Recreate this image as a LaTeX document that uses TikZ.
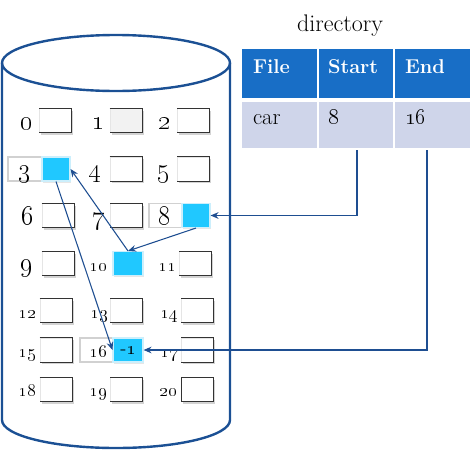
\RequirePackage{fix-cm}
\documentclass[tikz,border=0pt]{standalone}
\usetikzlibrary{arrows.meta,shadows,calc}
\definecolor{cylblue}{RGB}{27,80,148}
\definecolor{arrblue}{RGB}{30,78,145}
\definecolor{cyanfill}{RGB}{32,200,255}
\definecolor{hdrblue}{RGB}{24,110,198}
\definecolor{bodyfill}{RGB}{207,213,234}
\begin{document}
\begin{tikzpicture}[x=0.75pt,y=-0.75pt,
  bx/.style={rectangle, inner sep=0pt, minimum width=24pt, minimum height=18pt, fill=white, draw=black!10, line width=0.5pt,
    drop shadow={shadow xshift=1.2pt, shadow yshift=-1.8pt, opacity=0.35}},
  cy/.style={rectangle, inner sep=0pt, minimum height=18pt, fill=cyanfill, draw=cyan!20, line width=0.8pt,
    drop shadow={shadow xshift=1pt, shadow yshift=-1.2pt, opacity=0.2}, font=\fontsize{14}{16}\selectfont},
  gr/.style={rectangle, inner sep=0pt, minimum height=18pt, fill=white, draw=black!18, line width=1pt},
  big/.style={anchor=base west, inner sep=0pt, font=\fontsize{20}{22}\selectfont},
  sml/.style={anchor=base west, inner sep=0pt, font=\fontsize{13.5}{15}\selectfont},
  boxline/.style={draw=black!80, line width=0.9pt},
  arr/.style={-{Stealth[length=6pt,width=5pt]}, draw=arrblue, line width=0.8pt},
  hdr/.style={rectangle, inner sep=0pt, fill=hdrblue, minimum height=36.75pt},
  bdy/.style={rectangle, inner sep=0pt, fill=bodyfill, minimum height=34.5pt},
  tx/.style={anchor=base west, inner sep=0pt, font=\fontsize{17}{19}\selectfont}]
\useasboundingbox (0,0) rectangle (474,450);
% cylinder
\draw[cylblue, line width=1.8pt] (116,63) ellipse [x radius=85.5pt, y radius=21pt];
\draw[cylblue, line width=1.8pt] (2,63) -- (2,420) arc[start angle=180, end angle=360, x radius=85.5pt, y radius=21pt] -- (230,63);
% row 0
\node[bx] (b0) at (55.5,120.5) {};
\node[bx, fill=black!5] (b1) at (126,120.5) {};
\node[bx] (b2) at (193.5,120.5) {};
\node[big] (l0) at (20,129) {\oldstylenums{0}};
\node[big] (l1) at (92,129) {\oldstylenums{1}};
\node[big] (l2) at (158,129) {\oldstylenums{2}};
% row 1
\node[gr, minimum width=25.5pt] (g3) at (25,169) {};
\node[cy, minimum width=21pt] (c3) at (56,169) {};
\node[bx] (b4) at (126,169) {};
\node[bx] (b5) at (193.5,169) {};
\node[big] (l3) at (18,177) {\oldstylenums{3}};
\node[big] (l4) at (88,177) {\oldstylenums{4}};
\node[big] (l5) at (157,177) {\oldstylenums{5}};
% row 2
\node[bx] (b6) at (58,215.5) {};
\node[bx] (b7) at (126.5,215.5) {};
\node[gr, minimum width=24.75pt] (g8) at (165.5,215.5) {};
\node[cy, minimum width=21pt] (c8) at (196,215.5) {};
\node[big] (l6) at (21,224) {\oldstylenums{6}};
\node[big] (l7) at (92,224) {\oldstylenums{7}};
\node[big] (l8) at (158,224) {\oldstylenums{8}};
% row 3
\node[bx] (b9) at (58,263.5) {};
\node[cy, minimum width=22.5pt] (c10) at (128,263.5) {};
\node[bx] (b11) at (195.5,263.5) {};
\node[big] (l9) at (20,271) {\oldstylenums{9}};
\node[sml] (l10) at (89,271) {\oldstylenums{10}};
\node[sml] (l11) at (158,271) {\oldstylenums{11}};
% row 4
\node[bx] (b12) at (56,310.5) {};
\node[bx] (b13) at (126.5,310.5) {};
\node[bx] (b14) at (197.5,310.5) {};
\node[sml] (l12) at (18,318) {\oldstylenums{12}};
\node[sml] (l13) at (90,318) {\oldstylenums{13}};
\node[sml] (l14) at (160,318) {\oldstylenums{14}};
% row 5
\node[bx] (b15) at (56,350) {};
\node[gr, minimum width=24.75pt] (g16) at (96.5,350) {};
\node[cy, minimum width=22.5pt] (c16) at (128,350) {-\oldstylenums{1}};
\node[bx] (b17) at (197.5,350) {};
\node[sml] (l15) at (18,357) {\oldstylenums{15}};
\node[sml] (l16) at (89,357) {\oldstylenums{16}};
\node[sml] (l17) at (160,357) {\oldstylenums{17}};
% row 6
\node[bx] (b18) at (56,389.5) {};
\node[bx] (b19) at (126.5,389.5) {};
\node[bx] (b20) at (197.5,389.5) {};
\node[sml] (l18) at (18,396) {\oldstylenums{18}};
\node[sml] (l19) at (89,396) {\oldstylenums{19}};
\node[sml] (l20) at (159,396) {\oldstylenums{20}};
% box outlines
\foreach \n in {b0,b1,b2,b4,b5,b6,b7,b9,b11,b12,b13,b14,b15,b17,b18,b19,b20}
  \draw[boxline] (\n.north west) -- (\n.north east) -- (\n.south east) -- (\n.south west);
\draw[boxline] (b20.south west) -- (b20.north west);
% directory table
\node[anchor=base, inner sep=0pt, font=\fontsize{18}{20}\selectfont] (title) at (340,31) {directory};
\node[hdr, minimum width=56.25pt] (hF) at (279.5,73.5) {};
\node[hdr, minimum width=55.5pt] (hS) at (356,73.5) {};
\node[hdr, minimum width=56.25pt] (hE) at (432.5,73.5) {};
\node[bdy, minimum width=56.25pt] (cF) at (279.5,125) {};
\node[bdy, minimum width=55.5pt] (cS) at (356,125) {};
\node[bdy, minimum width=56.25pt] (cE) at (432.5,125) {};
\node[tx, text=white, font=\fontsize{15}{17}\selectfont\bfseries] (tF) at ($(hF.west)+(11,0)$) {File};
\node[tx, text=white, font=\fontsize{15}{17}\selectfont\bfseries] (tS) at ($(hS.west)+(9,0)$) {Start};
\node[tx, text=white, font=\fontsize{15}{17}\selectfont\bfseries] (tE) at ($(hE.west)+(10,0)$) {End};
\node[tx] (vF) at ($(cF.west)+(11,-1)$) {car};
\node[tx] (vS) at ($(cS.west)+(9,-1)$) {\oldstylenums{8}};
\node[tx] (vE) at ($(cE.west)+(10,-1)$) {\oldstylenums{16}};
% connectors
\coordinate (s1) at (357,150);
\coordinate (e1) at (427,150);
\draw[arr] (s1) |- (c8.east);
\draw[arr] (e1) |- (c16.east);
\draw[arr] (c8.south) -- (c10.north);
\draw[arr] (c10.north) -- (c3.east);
\draw[arr] (c3.south) -- (c16.west);
\end{tikzpicture}
\end{document}
